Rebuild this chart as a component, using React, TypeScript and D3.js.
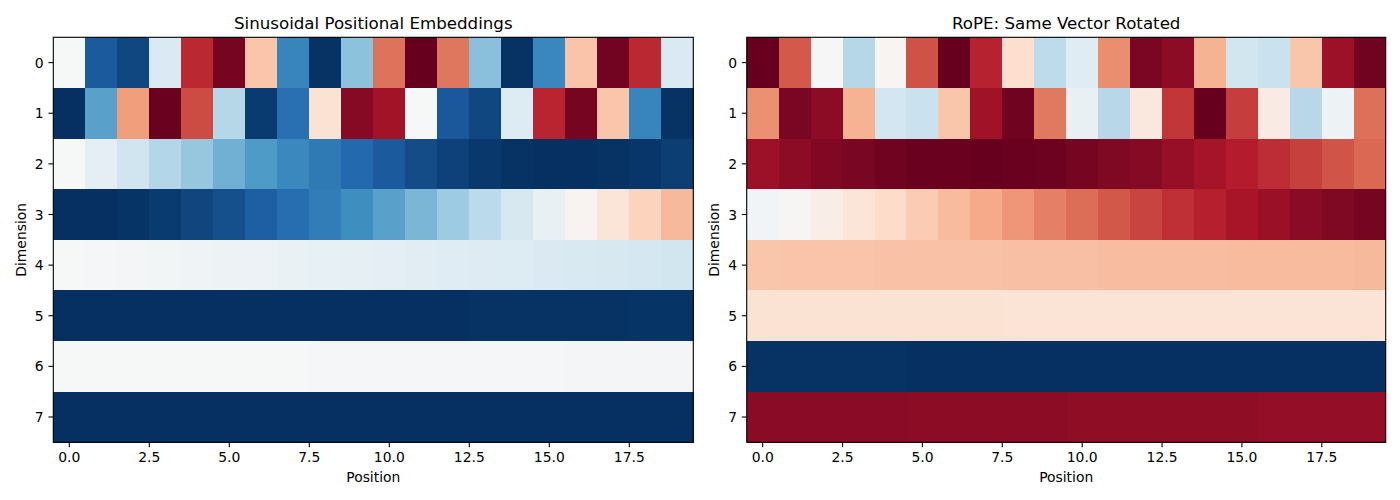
import React from 'react';
import * as d3 from 'd3';

// ---------- data ----------
const positions = [0, 1, 2, 3, 4, 5, 6, 7, 8, 9, 10, 11, 12, 13, 14, 15, 16, 17, 18, 19];
const dimensions = [0, 1, 2, 3, 4, 5, 6, 7];
const xTickValues = [0, 2.5, 5, 7.5, 10, 12.5, 15, 17.5];

// Left: sinusoidal positional embeddings (one array per dimension)
const sinDim0 = [0.0, 0.841, 0.909, 0.141, -0.757, -0.959, -0.279, 0.657, 0.989, 0.412, -0.544, -1.0, -0.537, 0.42, 0.991, 0.65, -0.288, -0.961, -0.751, 0.15];
const sinDim1 = [1.0, 0.54, -0.416, -0.99, -0.654, 0.284, 0.96, 0.754, -0.146, -0.911, -0.839, 0.004, 0.844, 0.907, 0.137, -0.76, -0.958, -0.275, 0.66, 0.989];
const sinDim2 = [0.0, 0.1, 0.199, 0.296, 0.389, 0.479, 0.565, 0.644, 0.717, 0.783, 0.841, 0.891, 0.932, 0.964, 0.985, 0.997, 1.0, 0.992, 0.974, 0.946];
const sinDim3 = [1.0, 0.995, 0.98, 0.955, 0.921, 0.878, 0.825, 0.765, 0.697, 0.622, 0.54, 0.454, 0.362, 0.267, 0.17, 0.071, -0.029, -0.129, -0.227, -0.323];
const sinDim4 = [0.0, 0.01, 0.02, 0.03, 0.04, 0.05, 0.06, 0.07, 0.08, 0.09, 0.1, 0.11, 0.12, 0.13, 0.14, 0.149, 0.159, 0.169, 0.179, 0.189];
const sinDim5 = [1.0, 1.0, 1.0, 1.0, 0.999, 0.999, 0.998, 0.998, 0.997, 0.996, 0.995, 0.994, 0.993, 0.992, 0.99, 0.989, 0.987, 0.986, 0.984, 0.982];
const sinDim6 = [0.0, 0.001, 0.002, 0.003, 0.004, 0.005, 0.006, 0.007, 0.008, 0.009, 0.01, 0.011, 0.012, 0.013, 0.014, 0.015, 0.016, 0.017, 0.018, 0.019];
const sinDim7 = [1.0, 1.0, 1.0, 1.0, 1.0, 1.0, 1.0, 1.0, 1.0, 1.0, 1.0, 1.0, 1.0, 1.0, 1.0, 1.0, 1.0, 1.0, 1.0, 1.0];

// Right: RoPE, same vector rotated
const ropeDim0 = [-0.988, -0.401, 0.554, 1.0, 0.527, -0.431, -0.992, -0.64, 0.301, 0.965, 0.743, -0.162, -0.918, -0.83, 0.021, 0.853, 0.9, 0.12, -0.77, -0.953];
const ropeDim1 = [-0.158, -0.916, -0.832, 0.017, 0.85, 0.902, 0.125, -0.768, -0.954, -0.263, 0.67, 0.987, 0.398, -0.558, -1.0, -0.522, 0.435, 0.993, 0.638, -0.304];
const ropeDim2 = [-0.774, -0.833, -0.882, -0.922, -0.954, -0.976, -0.987, -0.99, -0.982, -0.964, -0.938, -0.901, -0.856, -0.802, -0.74, -0.671, -0.595, -0.513, -0.426, -0.335];
const ropeDim3 = [0.617, 0.534, 0.45, 0.36, 0.265, 0.168, 0.071, -0.028, -0.127, -0.223, -0.317, -0.409, -0.497, -0.58, -0.658, -0.728, -0.792, -0.847, -0.893, -0.932];
const ropeDim4 = [0.12, 0.117, 0.113, 0.11, 0.107, 0.103, 0.1, 0.097, 0.093, 0.09, 0.087, 0.083, 0.08, 0.076, 0.073, 0.069, 0.066, 0.063, 0.059, 0.056];
const ropeDim5 = [0.33, 0.331, 0.332, 0.334, 0.335, 0.336, 0.337, 0.338, 0.339, 0.34, 0.34, 0.341, 0.342, 0.343, 0.344, 0.344, 0.345, 0.346, 0.346, 0.347];
const ropeDim6 = [2.1, 2.101, 2.102, 2.103, 2.103, 2.104, 2.105, 2.106, 2.107, 2.108, 2.109, 2.109, 2.11, 2.111, 2.112, 2.113, 2.114, 2.114, 2.115, 2.116];
const ropeDim7 = [-0.85, -0.848, -0.846, -0.844, -0.842, -0.84, -0.837, -0.835, -0.833, -0.831, -0.829, -0.827, -0.825, -0.823, -0.821, -0.819, -0.816, -0.814, -0.812, -0.81];

const sinRows = [sinDim0, sinDim1, sinDim2, sinDim3, sinDim4, sinDim5, sinDim6, sinDim7];
const ropeRows = [ropeDim0, ropeDim1, ropeDim2, ropeDim3, ropeDim4, ropeDim5, ropeDim6, ropeDim7];

// matplotlib RdBu stops
const rdbuStops = ['#67001f', '#b2182b', '#d6604d', '#f4a582', '#fddbc7', '#f7f7f7', '#d1e5f0', '#92c5de', '#4393c3', '#2166ac', '#053061'];

const FONT = 'DejaVu Sans, sans-serif';

const rdbu = d3
  .scaleLinear<string>()
  .domain(d3.range(11).map((i) => i / 10))
  .range(rdbuStops)
  .interpolate(d3.interpolateRgb)
  .clamp(true);

function Heatmap(props: { x0: number; x1: number; y0: number; y1: number; rows: number[][]; title: string }) {
  const { x0, x1, y0, y1, rows, title } = props;
  const all = rows.flat();
  const [vmin, vmax] = d3.extent(all) as [number, number];
  const norm = d3.scaleLinear().domain([vmin, vmax]).range([0, 1]);
  const color = (v: number) => {
    const t = norm(v);
    const idx = Math.min(255, Math.max(0, Math.floor(t * 256)));
    return rdbu(idx / 255);
  };
  const x = d3.scaleLinear().domain([-0.5, positions.length - 0.5]).range([x0, x1]);
  const y = d3.scaleLinear().domain([-0.5, dimensions.length - 0.5]).range([y0, y1]);
  const tickLen = 4.86;
  const pad = 4.86;
  const cx = (x0 + x1) / 2;
  const cy = (y0 + y1) / 2;
  return (
    <g>
      {dimensions.map((d) =>
        positions.map((p) => (
          <rect
            key={`${d}-${p}`}
            x={x(p - 0.5)}
            y={y(d - 0.5)}
            width={x(p + 0.5) - x(p - 0.5) + 0.3}
            height={y(d + 0.5) - y(d - 0.5) + 0.3}
            fill={color(rows[d][p])}
            shapeRendering="crispEdges"
          />
        ))
      )}
      <rect x={x0} y={y0} width={x1 - x0} height={y1 - y0} fill="none" stroke="#000" strokeWidth={1.1} />
      {xTickValues.map((t) => (
        <g key={`xt${t}`}>
          <line x1={x(t)} x2={x(t)} y1={y1} y2={y1 + tickLen} stroke="#000" strokeWidth={1.1} />
          <text x={x(t)} y={y1 + tickLen + pad + 10.1} textAnchor="middle" fontSize={13.9} fontFamily={FONT} fill="#000">
            {d3.format('.1f')(t)}
          </text>
        </g>
      ))}
      {dimensions.map((d) => (
        <g key={`yt${d}`}>
          <line x1={x0 - tickLen} x2={x0} y1={y(d)} y2={y(d)} stroke="#000" strokeWidth={1.1} />
          <text x={x0 - tickLen - pad} y={y(d) + 5.1} textAnchor="end" fontSize={13.9} fontFamily={FONT} fill="#000">
            {d}
          </text>
        </g>
      ))}
      <text x={cx} y={y0 - 8.3} textAnchor="middle" fontSize={16.67} fontFamily={FONT} fill="#000">
        {title}
      </text>
      <text x={cx} y={481.5} textAnchor="middle" fontSize={13.9} fontFamily={FONT} fill="#000">
        Position
      </text>
      <text
        transform={`translate(${x0 - 27.3},${cy}) rotate(-90)`}
        textAnchor="middle"
        fontSize={13.9}
        fontFamily={FONT}
        fill="#000"
      >
        Dimension
      </text>
    </g>
  );
}

export default function App() {
  return (
    <svg
      width={1400}
      height={500}
      viewBox="0 0 1400 500"
      style={{ position: 'absolute', left: 0, top: 0, background: '#fff' }}
    >
      <rect x={0} y={0} width={1400} height={500} fill="#fff" />
      <Heatmap x0={53.3} x1={693.3} y0={37.3} y1={442.3} rows={sinRows} title="Sinusoidal Positional Embeddings" />
      <Heatmap x0={746.7} x1={1385.7} y0={37.3} y1={442.3} rows={ropeRows} title="RoPE: Same Vector Rotated" />
    </svg>
  );
}
